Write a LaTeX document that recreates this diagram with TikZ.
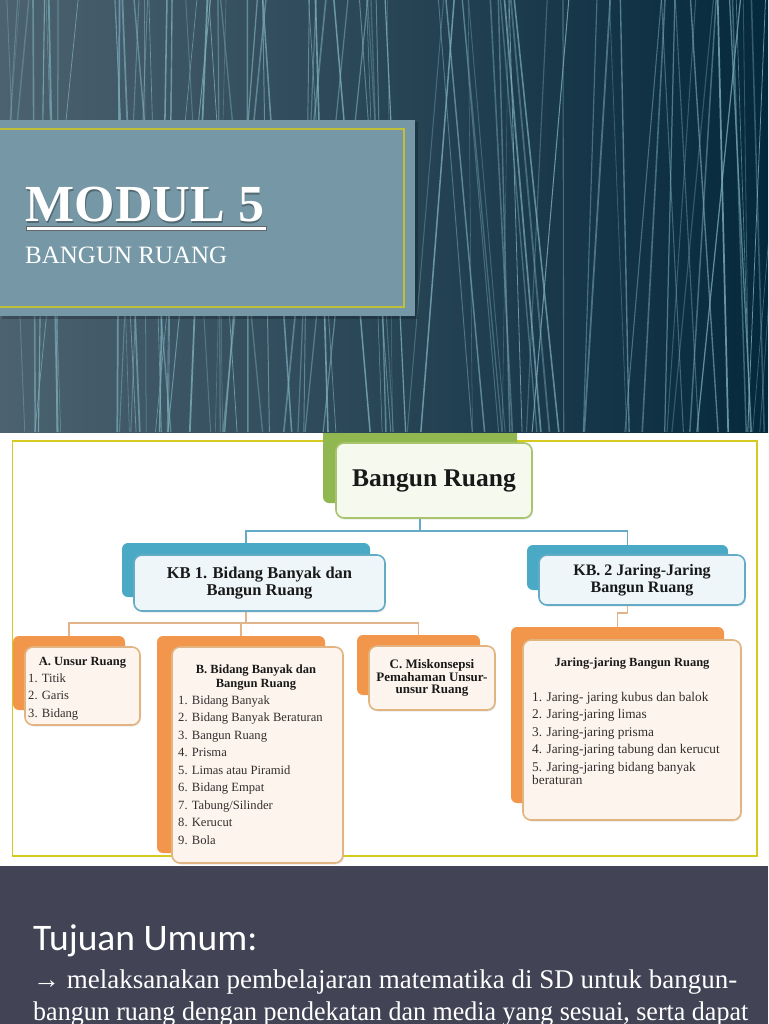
\documentclass[tikz,border=0pt]{standalone}
\usepackage{fontspec}
\setmainfont{Liberation Serif}
\newfontfamily\carlito{Carlito}
\usetikzlibrary{shadows,calc}
\definecolor{topL}{RGB}{76,98,112}
\definecolor{topM}{RGB}{32,64,82}
\definecolor{topR}{RGB}{5,41,60}
\definecolor{linec}{RGB}{125,172,186}
\definecolor{titlec}{RGB}{118,152,166}
\definecolor{yellowT}{RGB}{192,192,58}
\definecolor{yellowF}{RGB}{214,202,30}
\definecolor{bottomc}{RGB}{66,67,85}
\definecolor{greentab}{RGB}{145,183,80}
\definecolor{rootborder}{RGB}{168,196,108}
\definecolor{rootfill}{RGB}{245,249,238}
\definecolor{bluetab}{RGB}{74,170,198}
\definecolor{kbborder}{RGB}{100,172,198}
\definecolor{kbfill}{RGB}{238,246,250}
\definecolor{orangetab}{RGB}{242,150,76}
\definecolor{oborder}{RGB}{226,180,130}
\definecolor{ofill}{RGB}{253,245,237}
\definecolor{blinec}{RGB}{100,172,198}
\definecolor{olinec}{RGB}{226,180,140}
\definecolor{headc}{RGB}{25,25,25}
\definecolor{itemc}{RGB}{50,45,45}
\begin{document}
\begin{tikzpicture}[x=1pt,y=-1pt,
  tabshape/.style={rounded corners=6pt, inner sep=0pt, outer sep=0pt},
  greentabs/.style={tabshape, fill=greentab},
  bluetabs/.style={tabshape, fill=bluetab},
  orangetabs/.style={tabshape, fill=orangetab},
  frontbox/.style={rounded corners=8pt, line width=1.6pt, inner sep=0pt,
    drop shadow={opacity=0.18,shadow xshift=1pt,shadow yshift=-1.5pt}},
  rootbox/.style={frontbox, draw=rootborder, fill=rootfill, text=headc},
  kbbox/.style={frontbox, draw=kbborder, fill=kbfill, align=center, text=headc,
    font=\fontsize{16.5}{17.5}\selectfont\bfseries},
  obox/.style={frontbox, draw=oborder, fill=ofill},
  bconn/.style={draw=blinec, line width=1.4pt},
  oconn/.style={draw=olinec, line width=1.4pt},
  itemtext/.style={anchor=base west, inner sep=0pt, font=\fontsize{12.6}{14}\selectfont, text=itemc},
  headtext/.style={anchor=base, inner sep=0pt, font=\fontsize{12.5}{14}\selectfont\bfseries, text=headc},
  bgline/.style={draw=linec}]
\useasboundingbox (0,0) rectangle (768,1024);
% backgrounds
\fill[bottomc] (0,866) rectangle (768,1024);
\fill[white] (0,432) rectangle (768,866);
\draw[yellowF, line width=1.3pt] (12.7,441) rectangle (757,856);
% root tab (covered above by the top band)
\node[greentabs, minimum width=194pt, minimum height=83pt] (roottab) at (420,461.5) {};
% top band
\begin{scope}
\clip (0,0) rectangle (768,432);
\shade[left color=topL, middle color=topM, right color=topR] (0,0) rectangle (768,432);
\pgfmathsetseed{4242}
\foreach \i in {1,...,95}{
  \pgfmathsetmacro{\xa}{-20+810*rnd}
  \pgfmathsetmacro{\dx}{-45+90*rnd}
  \pgfmathsetmacro{\op}{0.35+0.5*rnd}
  \pgfmathsetmacro{\lw}{0.5+1.3*rnd}
  \draw[bgline, line width=\lw pt, opacity=\op] (\xa,0) -- ({\xa+\dx},432);
}
\end{scope}
% title box
\fill[black, opacity=0.22] (2,122) rectangle (418,319);
\fill[titlec] (0,120) rectangle (415,316);
\draw[yellowT, line width=1.4pt] (-5,129) rectangle (404,307);
\node[anchor=base west, inner sep=0pt, text=black, opacity=0.3, font=\fontsize{52}{52}\selectfont\bfseries] (modulsh) at (26.3,223.3) {MODUL 5};
\node[anchor=base west, inner sep=0pt, text=white, font=\fontsize{52}{52}\selectfont\bfseries] (modul) at (25.5,222) {MODUL 5};
\draw[fill=white, draw=black!60, line width=0.6pt] (26,226.5) rectangle (266.5,230.5);
\node[anchor=base west, inner sep=0pt, text=white, font=\fontsize{25}{25}\selectfont] (sub) at (25,263) {BANGUN RUANG};
% root
\node[rootbox, minimum width=196pt, minimum height=75pt, font=\fontsize{25.5}{25.5}\selectfont\bfseries] (root) at (434,480.5) {\raisebox{-1.5pt}{Bangun Ruang}};
% KB level
\node[bluetabs, minimum width=248pt, minimum height=54pt] (kb1tab) at (246,570) {};
\node[kbbox, minimum width=251pt, minimum height=56pt] (kb1) at (259.5,583) {KB 1. Bidang Banyak dan\\Bangun Ruang};
\node[bluetabs, minimum width=201pt, minimum height=45pt] (kb2tab) at (627.5,567.5) {};
\node[kbbox, minimum width=206pt, minimum height=50pt, font=\fontsize{16}{17.5}\selectfont\bfseries] (kb2) at (642,580) {KB. 2 Jaring-Jaring\\Bangun Ruang};
% connectors root -> KB
\draw[bconn] (roottab.south |- root.south) -- ++(0,12) coordinate (rj);
\draw[bconn] (kb1tab.north) |- (rj) -| (kb2tab.north);
% third level
\node[orangetabs, minimum width=112pt, minimum height=74pt] (atab) at (69,673) {};
\node[obox, minimum width=115pt, minimum height=78pt] (abox) at (82.5,686) {};
\node[orangetabs, minimum width=168pt, minimum height=217pt] (btab) at (241,744.5) {};
\node[obox, minimum width=171pt, minimum height=216pt] (bbox) at (257.5,755) {};
\node[orangetabs, minimum width=123pt, minimum height=60pt] (ctab) at (418.5,665) {};
\node[obox, minimum width=126pt, minimum height=64pt, align=center, text=headc,
  font=\fontsize{13}{11.5}\selectfont\bfseries] (cbox) at (432,678) {C. Miskonsepsi\\Pemahaman Unsur-\\unsur Ruang};
\node[orangetabs, minimum width=213pt, minimum height=176pt] (jtab) at (617.5,715) {};
\node[obox, minimum width=218pt, minimum height=180pt] (jbox) at (632,730) {};
% connectors KB -> third level
\draw[oconn] (kb1tab.south |- kb1.south) -- ++(0,11) coordinate (kj);
\draw[oconn] (atab.north) |- (kj) -| (ctab.north);
\draw[oconn] (btab.north) -- (btab.north |- kj);
\draw[oconn] (kb2tab.south |- kb2.south) -- ++(0,7) -| (jtab.north);
% A texts
\node[headtext] (ahead) at (82.5,665) {A. Unsur Ruang};
\foreach \t [count=\k] in {1. Titik, 2. Garis, 3. Bidang}
  \node[itemtext] (ai\k) at (28,{682+17.5*(\k-1)}) {\t};
% B texts
\node[headtext] (bhead1) at (256,673) {B. Bidang Banyak dan};
\node[headtext] (bhead2) at (256,687) {Bangun Ruang};
\foreach \t [count=\k] in {1. Bidang Banyak, 2. Bidang Banyak Beraturan, 3. Bangun Ruang, 4. Prisma, 5. Limas atau Piramid, 6. Bidang Empat, 7. Tabung/Silinder, 8. Kerucut, 9. Bola}
  \node[itemtext] (bi\k) at (178,{704+17.5*(\k-1)}) {\t};
% J texts
\node[headtext] (jhead) at (632,666) {Jaring-jaring Bangun Ruang};
\foreach \t [count=\k] in {1. Jaring- jaring kubus dan balok, 2. Jaring-jaring limas, 3. Jaring-jaring prisma, 4. Jaring-jaring tabung dan kerucut, 5. Jaring-jaring bidang banyak}
  \node[itemtext, font=\fontsize{13.3}{14}\selectfont] (ji\k) at (532,{701+17.5*(\k-1)}) {\t};
\node[itemtext, font=\fontsize{13.3}{14}\selectfont] (ji6) at (532,784) {beraturan};
% bottom text
\node[anchor=base west, inner sep=0pt, text=white, font=\carlito\fontsize{37.5}{37.5}\selectfont] (tuj) at (33,950) {Tujuan Umum:};
\node[anchor=base west, inner sep=0pt, text=white, font=\fontsize{27}{27}\selectfont] (l1) at (33,988)
  {\resizebox{704pt}{\height}{→ melaksanakan pembelajaran matematika di SD untuk bangun-}};
\node[anchor=base west, inner sep=0pt, text=white, font=\fontsize{27}{27}\selectfont] (l2) at (33,1020)
  {\resizebox{715pt}{\height}{bangun ruang dengan pendekatan dan media yang sesuai, serta dapat}};
\end{tikzpicture}
\end{document}
